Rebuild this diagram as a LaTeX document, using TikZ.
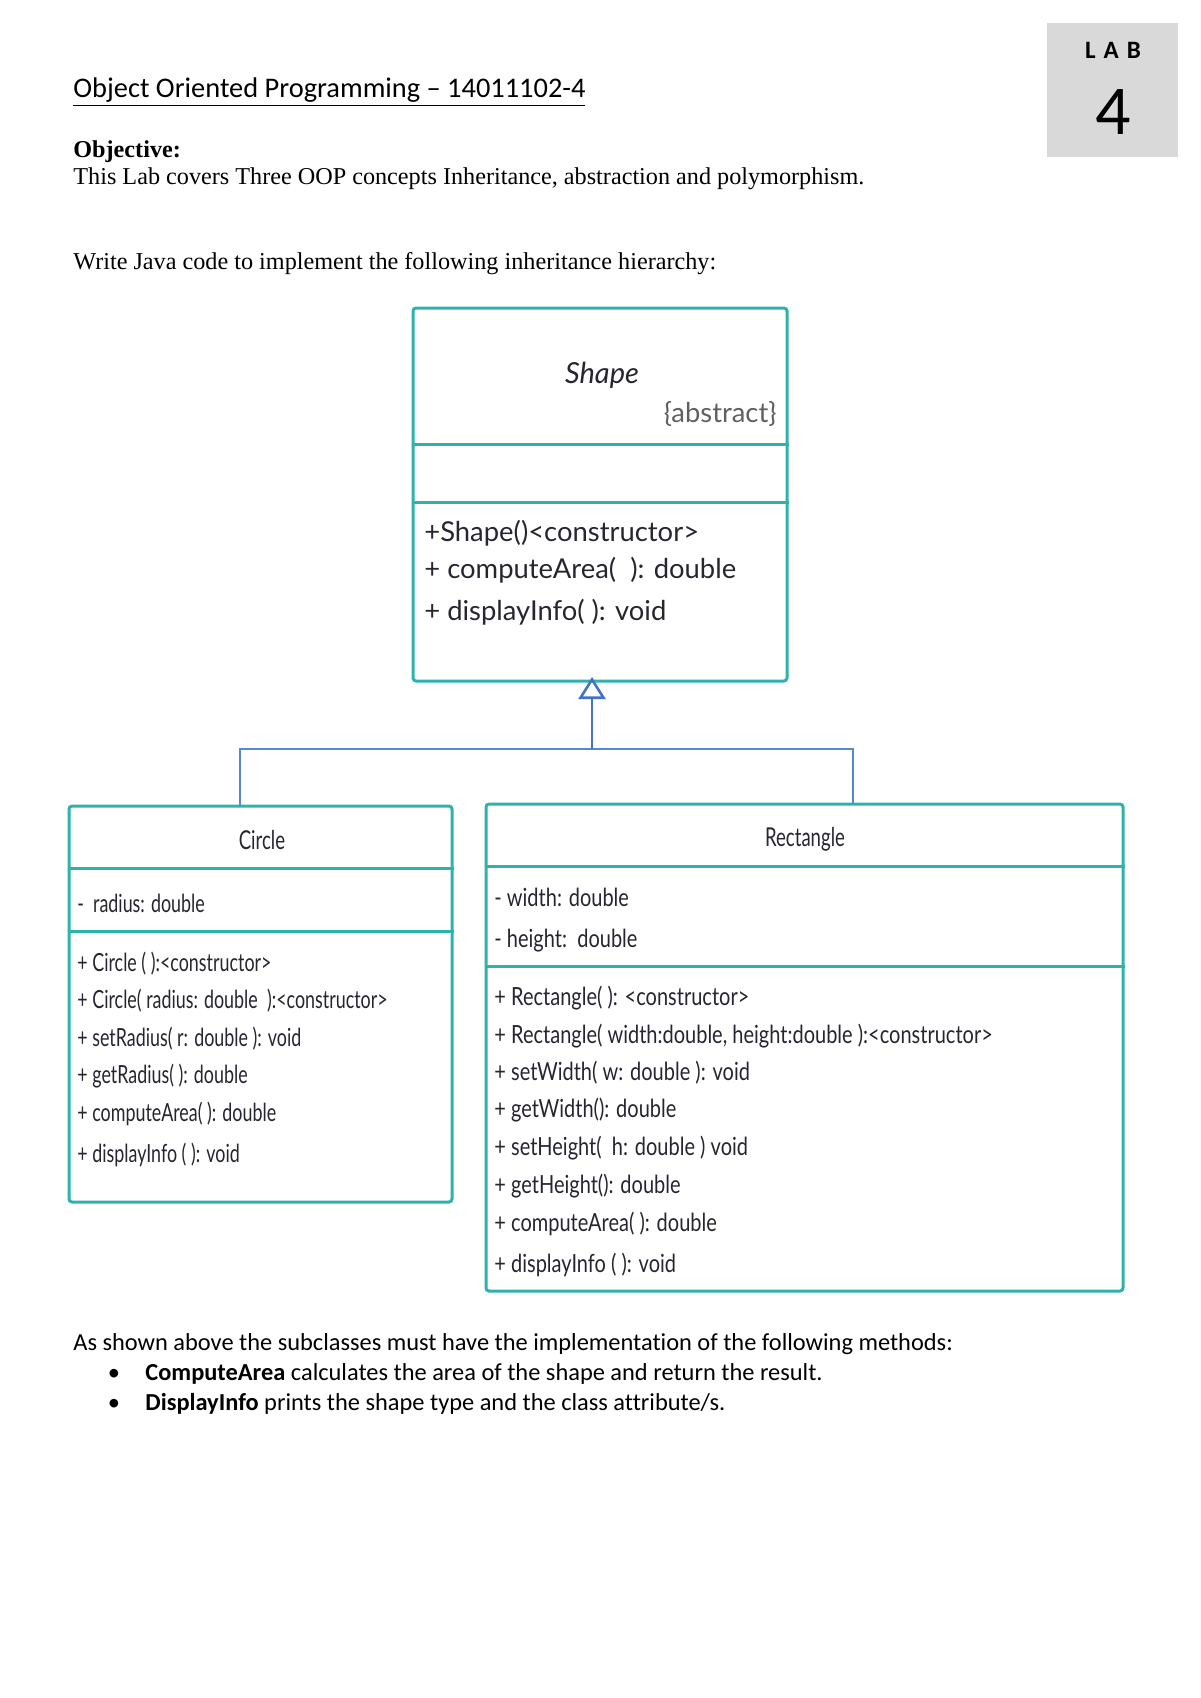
\documentclass[tikz,border=0pt]{standalone}
\usepackage{fontspec}
\setmainfont{Liberation Serif}
\newfontfamily\calfont[Ligatures={NoCommon}]{Carlito}
\newfontfamily\latofont{Lato}
\newfontfamily\latocfont[FakeStretch=0.715]{Lato}
\newfontfamily\latorfont[FakeStretch=0.80]{Lato}
\usetikzlibrary{arrows.meta,fit}
\definecolor{umlteal}{RGB}{45,178,172}
\definecolor{connblue}{RGB}{85,135,212}
\definecolor{triblue}{RGB}{68,114,196}
\definecolor{labgray}{RGB}{217,217,217}
\definecolor{umltext}{RGB}{38,38,48}
\definecolor{abstgray}{RGB}{95,95,100}
\begin{document}
\begin{tikzpicture}[x=0.5pt,y=-0.5pt,
  umlbox/.style={draw=umlteal, line width=1.5pt, rounded corners=1.5pt, inner sep=0pt},
  divider/.style={draw=umlteal, line width=1.5pt},
  conn/.style={draw=connblue, line width=0.6pt},
  connthick/.style={draw=triblue, line width=1pt},
  doctext/.style={anchor=mid west, inner sep=0pt, font=\fontsize{12.1}{14}\selectfont},
  caltext/.style={anchor=mid west, inner sep=0pt, font=\calfont\fontsize{12.2}{14}\selectfont},
  shapetext/.style={anchor=mid west, inner sep=0pt, text=umltext, font=\latofont\fontsize{13.7}{16}\selectfont},
  clstext/.style={anchor=mid west, inner sep=0pt, text=umltext, font=\latocfont\fontsize{12.5}{15}\selectfont},
  recttext/.style={anchor=mid west, inner sep=0pt, text=umltext, font=\latorfont\fontsize{12.5}{15}\selectfont},
  clsname/.style={anchor=mid, inner sep=0pt, text=umltext, font=\latocfont\fontsize{13}{15}\selectfont}
]
\useasboundingbox[fill=white] (0,0) rectangle (1200,1698);

% LAB tab
\node[fill=labgray, inner sep=0pt, fit={(1047,23) (1178,157)}] (labbox) {};
\node[anchor=mid, inner sep=0pt, font=\calfont\bfseries\fontsize{12.5}{14}\selectfont] (labword) at (1113,54) {L\hspace{4pt}A\hspace{4pt}B};
\node[anchor=center, inner sep=0pt, font=\calfont\fontsize{35}{40}\selectfont] (labnum) at (1113,112) {4};

% header texts
\node[anchor=mid west, inner sep=0pt, font=\calfont\fontsize{14.2}{16}\selectfont] (title) at (73,93) {\underline{Object Oriented Programming – 14011102-4}};
\node[doctext, font=\bfseries\fontsize{12.1}{14}\selectfont] (objective) at (73,153) {Objective:};
\node[doctext] (covers) at (73,180) {This Lab covers Three OOP concepts Inheritance, abstraction and polymorphism.};
\node[doctext] (write) at (73,265) {Write Java code to implement the following inheritance hierarchy:};

% Shape class
\node[umlbox, fit={(413,308) (787,681)}] (shape) {};
\draw[divider] (shape.west |- 0,444) -- (shape.east |- 0,444);
\draw[divider] (shape.west |- 0,502) -- (shape.east |- 0,502);
\node[anchor=mid, inner sep=0pt, text=umltext, font=\latofont\itshape\fontsize{14.5}{17}\selectfont] (shapename) at (602,379) {Shape};
\node[anchor=mid east, inner sep=0pt, text=abstgray, font=\latofont\fontsize{13.7}{16}\selectfont] (shapeabs) at (777,418) {\{abstract\}};
\node[shapetext] (sm1) at (424,537) {+Shape()<constructor>};
\node[shapetext] (sm2) at (424,574) {+ computeArea(\ \ ): double};
\node[shapetext] (sm3) at (424,616) {+ displayInfo( ): void};

% Circle class
\node[umlbox, fit={(69,806) (452,1202)}] (circle) {};
\draw[divider] (circle.west |- 0,868) -- (circle.east |- 0,868);
\draw[divider] (circle.west |- 0,931) -- (circle.east |- 0,931);
\node[clsname] (circlename) at (262,845) {Circle};
\node[clstext] (ca1) at (77,908) {-\ \ radius: double};
\node[clstext] (cm1) at (77,967) {+ Circle ( ):<constructor>};
\node[clstext] (cm2) at (77,1004) {+ Circle( radius: double\ \ ):<constructor>};
\node[clstext] (cm3) at (77,1042) {+ setRadius( r: double ): void};
\node[clstext] (cm4) at (77,1079) {+ getRadius( ): double};
\node[clstext] (cm5) at (77,1117) {+ computeArea( ): double};
\node[clstext] (cm6) at (77,1158) {+ displayInfo ( ): void};

% Rectangle class
\node[umlbox, fit={(486,804) (1123,1291)}] (rect) {};
\draw[divider] (rect.west |- 0,866) -- (rect.east |- 0,866);
\draw[divider] (rect.west |- 0,966) -- (rect.east |- 0,966);
\node[clsname] (rectname) at (805,842) {Rectangle};
\node[recttext] (ra1) at (494,902) {- width: double};
\node[recttext] (ra2) at (494,943) {- height:\ \ double};
\node[recttext] (rm1) at (494,1001) {+ Rectangle( ): <constructor>};
\node[recttext] (rm2) at (494,1039) {+ Rectangle( width:double, height:double ):<constructor>};
\node[recttext] (rm3) at (494,1076) {+ setWidth( w: double ): void};
\node[recttext] (rm4) at (494,1113) {+ getWidth(): double};
\node[recttext] (rm5) at (494,1151) {+ setHeight(\ \ h: double ) void};
\node[recttext] (rm6) at (494,1189) {+ getHeight(): double};
\node[recttext] (rm7) at (494,1227) {+ computeArea( ): double};
\node[recttext] (rm8) at (494,1268) {+ displayInfo ( ): void};

% inheritance connector
\coordinate (junc) at (592,749);
\coordinate (ctop) at (240,806);
\coordinate (rtop) at (853,804);
\coordinate (tip) at (592,677);
\draw[conn] (ctop) |- (junc) -| (rtop);
\draw[connthick, -{Triangle[open, width=13.5pt, length=11pt, line width=1.3pt]}] (junc) -- (tip);

% bottom text
\node[caltext] (shown) at (73,1346) {As shown above the subclasses must have the implementation of the following methods:};
\node[anchor=mid, inner sep=0pt, font=\calfont\fontsize{12.2}{14}\selectfont] (bul1) at (114,1376) {•};
\node[caltext] (item1) at (145,1376) {\textbf{ComputeArea} calculates the area of the shape and return the result.};
\node[anchor=mid, inner sep=0pt, font=\calfont\fontsize{12.2}{14}\selectfont] (bul2) at (114,1406) {•};
\node[caltext] (item2) at (145,1406) {\textbf{DisplayInfo} prints the shape type and the class attribute/s.};
\end{tikzpicture}
\end{document}
